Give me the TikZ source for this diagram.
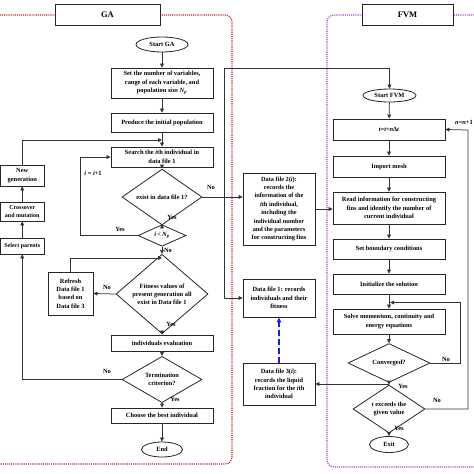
\documentclass[tikz,border=0pt]{standalone}
\usepackage{fontspec}
\setmainfont{Liberation Serif}
\usetikzlibrary{shapes.geometric,arrows.meta}
\definecolor{gared}{RGB}{200,30,40}
\definecolor{fvmpurple}{RGB}{175,60,205}
\definecolor{dashblue}{RGB}{30,30,220}
\begin{document}
\begin{tikzpicture}[x=1pt,y=-1pt,
  box/.style={draw=black!85, line width=0.8pt, fill=white, align=center, inner sep=1pt,
    font=\bfseries\fontsize{6.4}{8.4}\selectfont},
  hdr/.style={draw=black!85, line width=0.8pt, fill=white, align=center,
    font=\bfseries\fontsize{8.5}{9}\selectfont},
  oval/.style={ellipse, draw=black!85, line width=0.8pt, fill=white, inner sep=0pt,
    font=\bfseries\fontsize{6.4}{8}\selectfont},
  dia/.style={diamond, draw=black!85, line width=0.8pt, fill=white, inner sep=0pt, align=center,
    font=\bfseries\fontsize{6.4}{7.8}\selectfont},
  ar/.style={-{Triangle[length=4pt,width=3.8pt]}, line width=0.75pt, draw=black!80},
  ln/.style={line width=0.75pt, draw=black!80},
  lbl/.style={font=\bfseries\fontsize{6.4}{7}\selectfont, inner sep=0pt},
  frame/.style={densely dotted, line width=1.1pt, rounded corners=7pt}
]
\useasboundingbox (0,0) rectangle (474,474);
% frames
\draw[frame, gared] (0,15) -- (232,15) -- (232,464) -- (0,464);
\draw[frame, fvmpurple] (474,15) -- (327,15) -- (327,467) -- (474,467);
\node[hdr, minimum width=105pt, minimum height=21pt] (ga) at (107.5,14.5) {GA};
\node[hdr, minimum width=91pt, minimum height=21pt] (fvm) at (407.5,14.5) {FVM};

% GA column
\node[oval, minimum width=52pt, minimum height=15pt] (startGA) at (162,44.5) {Start GA};
\node[box, minimum width=102pt, minimum height=30pt] (setn) at (162,83)
  {Set the number of variables,\\range of each variable, and\\population size \textit{N}\textsubscript{\textit{p}}};
\node[box, minimum width=102pt, minimum height=19pt] (prod) at (162,122.5) {Produce the initial population};
\node[box, minimum width=102pt, minimum height=20pt] (search) at (162,157)
  {Search the \textit{i}th individual in\\data file 1};
\node[dia, minimum width=80pt, minimum height=30pt] (exist) at (162,197) {exist in data file 1?};
\node[dia, minimum width=48pt, minimum height=17pt] (inp) at (162,235.5)
  {\textit{i}\,<\,\textit{N}\textsubscript{\textit{p}}};
\node[dia, minimum width=92pt, minimum height=52pt] (fit) at (162,294)
  {Fitness values of\\present generation all\\exist in Data file 1};
\node[box, minimum width=45pt, minimum height=43pt] (refresh) at (70.5,293.5)
  {Refresh\\Data file 1\\based on\\Data file 3};
\node[box, minimum width=102pt, minimum height=16pt] (eval) at (162,343) {individuals evaluation};
\node[dia, minimum width=80pt, minimum height=31pt] (term) at (162,379.5) {Termination\\criterion?};
\node[box, minimum width=102pt, minimum height=15pt] (choose) at (162,415.5) {Choose the best individual};
\node[oval, minimum width=41pt, minimum height=15pt] (endGA) at (162,449.5) {End};

% left column
\node[box, minimum width=43.5pt, minimum height=16pt, inner sep=0pt,
  font=\bfseries\fontsize{6}{8}\selectfont] (select) at (22.25,246) {Select parents};
\node[box, minimum width=43.5pt, minimum height=19pt, inner sep=0pt,
  font=\bfseries\fontsize{6}{7.6}\selectfont] (cross) at (22.25,211.5) {Crossover\\and mutation};
\node[box, minimum width=43.5pt, minimum height=21pt, inner sep=0pt] (newgen) at (22.25,175.5) {New\\generation};

% data files
\node[box, minimum width=72pt, minimum height=72pt, font=\bfseries\fontsize{6.3}{8.4}\selectfont] (df2) at (279,209)
  {Data file 2(\textit{i}):\\records the\\information of the\\\textit{i}th individual,\\including the\\individual number\\and the parameters\\for constructing fins};
\node[box, minimum width=72pt, minimum height=38pt] (df1) at (279,298)
  {Data file 1: records\\individuals and their\\fitness};
\node[box, minimum width=72pt, minimum height=42pt] (df3) at (279,384)
  {Data file 3(\textit{i}):\\records the liquid\\fraction for the \textit{i}th\\individual};

% FVM column
\node[oval, minimum width=53pt, minimum height=13pt] (startFVM) at (389.5,95.5) {Start FVM};
\node[box, minimum width=112pt, minimum height=21pt] (tbox) at (389,129.5) {\textit{t=t+n}Δ\textit{t}};
\node[box, minimum width=112pt, minimum height=21pt] (mesh) at (389,166.5) {Import mesh};
\node[box, minimum width=112pt, minimum height=32pt] (read) at (389,208)
  {Read information for constructing\\fins and identify the number of\\current individual};
\node[box, minimum width=112pt, minimum height=20pt] (bc) at (389,249) {Set boundary conditions};
\node[box, minimum width=112pt, minimum height=20pt] (init) at (389,284) {Initialize the solution};
\node[box, minimum width=112pt, minimum height=25pt] (solve) at (389,321.5)
  {Solve momentum, continuity and\\energy equations};
\node[dia, minimum width=82pt, minimum height=30pt] (conv) at (389,363) {Converged?};
\node[dia, minimum width=72pt, minimum height=28pt] (texc) at (389,409) {\textit{t} exceeds the\\given value};
\node[oval, minimum width=39pt, minimum height=16pt] (exit) at (389,444.5) {Exit};

% junctions
\coordinate (j1) at (162,258);
\coordinate (j2) at (162,140);
\coordinate (j3) at (224,197);
\coordinate (j4) at (389.5,68);
\coordinate (j5) at (389,384);
\coordinate (j6) at (389,302.5);
\coordinate (ji) at (80,235.5);
\coordinate (jc) at (460,302.5);
\coordinate (jt) at (468,130);

% GA connectors
\draw[ar] (startGA) -- (setn);
\draw[ar] (setn) -- (prod);
\draw[ar] (prod) -- (search);
\draw[ar] (search) -- (exist);
\draw[ar] (exist) -- (inp);
\draw[ar] (inp) -- (fit);
\draw[ar] (fit) -- (eval);
\draw[ar] (eval) -- (term);
\draw[ar] (term) -- (choose);
\draw[ar] (choose) -- (endGA);
\draw[ar] (inp.west) -- (ji) |- (search.west);
\draw[ar] (fit.west) -- (refresh.east);
\draw[ar] (refresh.north) |- (j1);
\draw[ar] (term.west) -| (select.south);
\draw[ar] (select) -- (cross);
\draw[ar] (cross) -- (newgen);
\draw[ar] (newgen.north) |- (j2);

% links to data files and FVM
\draw[ln] (exist.east) -- (j3);
\draw[ar] (j3) -- (j3 -| df2.west);
\draw[ar] (j3) |- (df1.west);
\draw[ar] (j3) |- (j4) -- (startFVM.north);
\draw[ar] (df2.east) -- (df2.east -| read.west);
\draw[-{Triangle[length=5pt,width=4.5pt]}, draw=dashblue, fill=dashblue, line width=1.3pt,
  dash pattern=on 6pt off 3pt] (df3.north) -- (df1.south);

% FVM connectors
\draw[ar] (startFVM) -- (tbox);
\draw[ar] (tbox) -- (mesh);
\draw[ar] (mesh) -- (read);
\draw[ar] (read) -- (bc);
\draw[ar] (bc) -- (init);
\draw[ar] (init) -- (solve);
\draw[ar] (solve) -- (conv);
\draw[ar] (conv) -- (texc);
\draw[ar] (texc) -- (exit);
\draw[ar] (j5) -- (j5 -| df3.east);
\draw[ar] (conv.east) -| (jc) -- ([xshift=1pt]j6);
\draw[ar] (texc.east) -| (jt) -- (tbox.east);

% labels
\node[lbl] (l1) at (211,187) {No};
\node[lbl] (l2) at (172,217) {Yes};
\node[lbl] (l3) at (120,229) {Yes};
\node[lbl] (l4) at (168,250) {No};
\node[lbl] (l5) at (93,173) {\textit{i = i}+1};
\node[lbl] (l6) at (107,287) {No};
\node[lbl] (l7) at (171,324) {Yes};
\node[lbl] (l8) at (107,371) {No};
\node[lbl] (l9) at (175,399) {Yes};
\node[lbl] (l10) at (464,122) {\textit{n=n}+1};
\node[lbl] (l11) at (446,359) {No};
\node[lbl] (l12) at (403,386) {Yes};
\node[lbl] (l13) at (437,400) {No};
\node[lbl] (l14) at (399,428) {Yes};
\end{tikzpicture}
\end{document}
